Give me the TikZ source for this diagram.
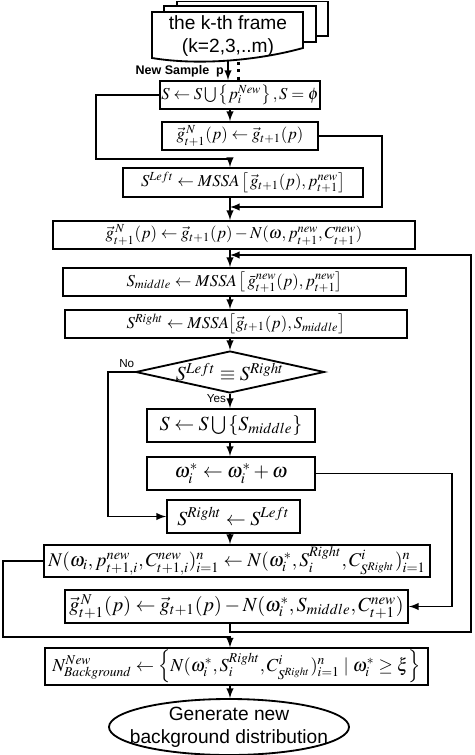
\documentclass[tikz,border=0pt]{standalone}
\usepackage{mathtools,amssymb}
\usepackage{mathptmx}
\usepackage[no-math]{fontspec}
\setsansfont{Liberation Sans}
\usetikzlibrary{arrows,shapes.geometric}

\begin{document}
\begin{tikzpicture}[x=0.6pt,y=-0.6pt,>=latex,
		box/.style={draw,line width=1.1pt,fill=white,inner sep=1pt,font=\fontsize{10}{12}\selectfont},
		bigbox/.style={box,font=\fontsize{12}{14}\selectfont},
		line/.style={line width=1pt},
		sf/.style={font=\sffamily\fontsize{11.5}{14}\selectfont,align=center},
		lbl/.style={font=\sffamily\fontsize{7}{8}\selectfont,inner sep=2pt}]
		\useasboundingbox (0,0) rectangle (474,755);
		\coordinate (spine) at (230,0);
		
		\draw[line width=1.1pt,fill=white] (177,1.5) rectangle (328,36);
		\draw[line width=1.1pt,fill=white] (164,6) rectangle (316,42);
		\draw[line width=1.1pt,fill=white] (152,12) -- (303,12) -- (303,48) .. controls (260,60) and (200,66) .. (152,58) -- cycle;
		\node[sf] (frame) at (228,36) {the k-th frame\\(k=2,3,..m)};
		\coordinate (fb) at (228,61);
		\coordinate (d1) at (238,62);
		\coordinate (d2) at (238,82);
		
		\node[box,minimum width=93.6pt,minimum height=16.8pt] (b1) at (240,95) {$S \leftarrow S\bigcup\left\{p_i^{New}\right\}, S=\phi$};
		\node[box,minimum width=93.6pt,minimum height=16.8pt] (b2) at (240,136) {$\vec{g}^{\,N}_{t+1}(p) \leftarrow \vec{g}_{t+1}(p)$};
		\node[box,minimum width=144pt,minimum height=17.4pt] (b3) at (243,182.5) {$S^{Left} \leftarrow MSSA\left[\,\vec{g}_{t+1}(p), p^{new}_{t+1}\right]$};
		\node[box,minimum width=217.2pt,minimum height=16.8pt] (b4) at (234,235) {$\vec{g}^{\,N}_{t+1}(p) \leftarrow \vec{g}_{t+1}(p) - \boldsymbol{N}(\omega, p^{new}_{t+1}, C^{new}_{t+1})$};
		\node[box,minimum width=205.8pt,minimum height=16.8pt] (b5) at (234.5,282) {$S_{middle} \leftarrow MSSA\left[\,\bar{g}^{new}_{t+1}(p), p^{new}_{t+1}\right]$};
		\node[box,minimum width=205.2pt,minimum height=16.8pt] (b6) at (236,324) {$S^{Right} \leftarrow MSSA\big[\vec{g}_{t+1}(p), S_{middle}\big]$};
		\node[bigbox,diamond,aspect=4.5,inner sep=0pt,minimum width=108pt,minimum height=24pt] (dia) at (230,372) {$S^{Left} \equiv S^{Right}$};
		\node[bigbox,minimum width=100.8pt,minimum height=19.8pt] (b7) at (231,425.5) {$S \leftarrow S\bigcup\left\{S_{middle}\right\}$};
		\node[bigbox,minimum width=100.8pt,minimum height=19.8pt] (b8) at (231,473.5) {$\omega_i^{*} \leftarrow \omega_i^{*} + \omega$};
		\node[bigbox,minimum width=79.8pt,minimum height=19.8pt] (b9) at (233.5,516.5) {$S^{Right} \leftarrow S^{Left}$};
		\node[bigbox,font=\fontsize{11.6}{14}\selectfont,minimum width=231.6pt,minimum height=19.2pt] (bupd) at (237,561) {$N(\omega_i, p^{new}_{t+1,i}, C^{new}_{t+1,i})_{i=1}^{n} \leftarrow N(\omega_i^{*}, S_i^{Right}, C^{i}_{S^{Right}})_{i=1}^{n}$};
		\node[bigbox,minimum width=205.8pt,minimum height=19.8pt] (b10) at (236.5,606.5) {$\vec{g}^{\,N}_{t+1}(p) \leftarrow \vec{g}_{t+1}(p) - N(\omega_i^{*}, S_{middle}, C^{new}_{t+1})$};
		\node[bigbox,font=\fontsize{11}{13}\selectfont,minimum width=229.8pt,minimum height=19.8pt] (bbg) at (236.5,666.5) {$N^{New}_{Background} \leftarrow \left\{ N(\omega_i^{*}, S_i^{Right}, C^{i}_{S^{Right}})_{i=1}^{n} \mid \omega_i^{*} \ge \xi \right\}$};
		\node[draw,ellipse,line width=1.1pt,minimum width=144pt,minimum height=33.6pt] (gen) at (229,727) {};
		\node[sf] (gentext) at (gen) {Generate new\\background distribution};
		
		\coordinate (lx1) at (96,159);
		\coordinate (rx1) at (382,207);
		\coordinate (nox) at (108,0);
		\coordinate (rx3) at (452,0);
		\coordinate (rx2) at (471,632);
		\coordinate (rx2top) at (471,255);
		\coordinate (lx2) at (3,637);
		
		\draw[line,->] (fb) -- node[lbl,left,pos=.55,font=\sffamily\bfseries\fontsize{7.5}{9}\selectfont] (newp) {New Sample~ p} (b1.north -| fb);
		\draw[line width=1.8pt,dash pattern=on 1.8pt off 2.6pt] (d1) -- (d2);
		\draw[line,->] (b1.south -| spine) -- (b2.north -| spine);
		\draw[line,->] (b1.west) -| (lx1) -| (b3.north -| spine);
		\draw[line,->] (b2.east) -| (rx1) -- (rx1 -| spine);
		\draw[line,->] (b3.south -| spine) -- (b4.north -| spine);
		\draw[line,->] (b4.south -| spine) -- (b5.north -| spine);
		\draw[line,->] (b5.south -| spine) -- (b6.north -| spine);
		\draw[line,->] (b6.south -| spine) -- (dia.north);
		\draw[line,->] (dia.south) -- node[lbl,left,pos=.35] (yes) {Yes} (b7.north -| dia);
		\draw[line,->] (dia.west) -- node[lbl,above,pos=.3] (no) {No} (dia.west -| nox) |- (b9.west);
		\draw[line,->] (b7.south -| spine) -- (b8.north -| spine);
		\draw[line,->] (b8.east) -| (rx3 |- b10.east) -- (b10.east);
		\draw[line,->] (b9.south -| spine) -- (bupd.north -| spine);
		\draw[line,->] (b10.south -| spine) |- (rx2) -- (rx2top) -- (rx2top -| spine);
		\draw[line,->] (bupd.west) -| (lx2) -| (bbg.north -| spine);
		\draw[line,->] (bbg.south -| spine) -- (gen.north -| spine);
	\end{tikzpicture}
\end{document}
